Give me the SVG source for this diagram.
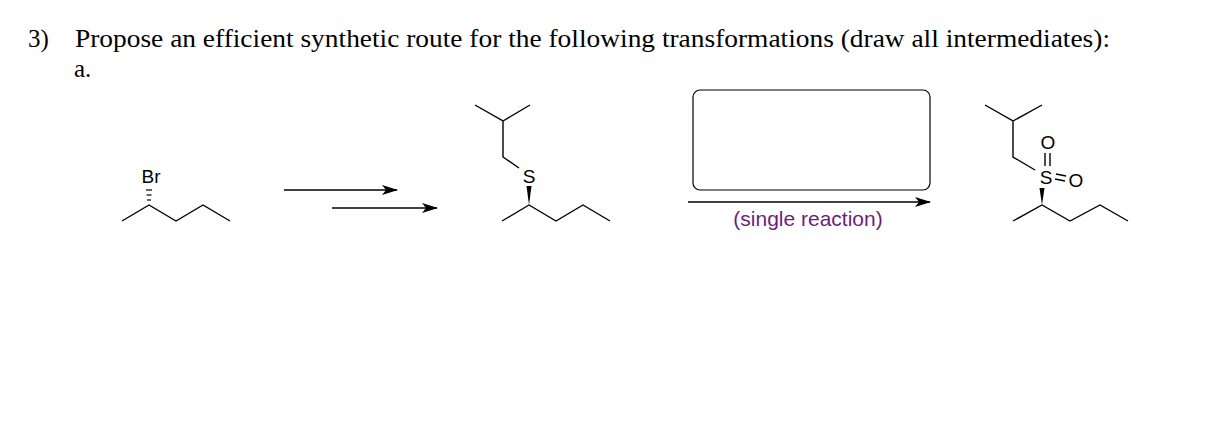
<svg xmlns="http://www.w3.org/2000/svg" width="1216" height="436" viewBox="0 0 1216 436">
<defs>
<style>
.b{stroke:#000;stroke-width:1.4;fill:none}
.t{font-family:"Liberation Serif",serif;font-size:25px;fill:#000}
.a{font-family:"Liberation Sans",Arial,sans-serif;font-size:19px;fill:#000;text-anchor:middle}
</style>
<marker id="ah" markerWidth="16" markerHeight="10" refX="15" refY="5" orient="auto" markerUnits="userSpaceOnUse"><path d="M0,0 L16,5 L0,10 L4,5 Z" fill="#000"/></marker>
</defs>
<rect width="1216" height="436" fill="#fff"/>
<text class="t" x="28" y="47">3)</text>
<text class="t" x="75" y="47" textLength="1035" lengthAdjust="spacingAndGlyphs">Propose an efficient synthetic route for the following transformations (draw all intermediates):</text>
<text class="t" x="74" y="77">a.</text>
<g id="mol1">
<polyline class="b" points="122,221 149,205 176,221 203,205 230,221"/>
<g stroke="#000" stroke-width="1.2"><line x1="147" y1="200" x2="151" y2="200"/><line x1="146.5" y1="195" x2="151.5" y2="195"/><line x1="146" y1="190" x2="152" y2="190"/></g>
<text class="a" x="151" y="183">Br</text>
</g>
<g id="mol2">
<polyline class="b" points="502,221 529,205 556,221 583,205 610,221"/>
<path d="M529,205 L526.5,186 L531.5,186 Z" fill="#000"/>
<text class="a" x="529" y="183">S</text>
<polyline class="b" points="519,168 503,157 503,121 475,105"/>
<line class="b" x1="503" y1="121" x2="530" y2="105"/>
</g>
<g id="box"><rect x="693" y="90" width="237" height="100" rx="7" fill="none" stroke="#000" stroke-width="1.2"/></g>
<g id="mol3">
<polyline class="b" points="1013,221 1042,205 1070,221 1100,205 1128,221"/>
<path d="M1042,205 L1039.5,188 L1044.5,188 Z" fill="#000"/>
<text class="a" x="1046" y="184">S</text>
<text class="a" x="1048" y="149">O</text>
<text class="a" x="1076" y="187">O</text>
<polyline class="b" points="1035,170 1013,157 1013,121 985,105"/>
<line class="b" x1="1013" y1="121" x2="1042" y2="105"/>
<line class="b" x1="1045" y1="153" x2="1045" y2="166"/><line class="b" x1="1050" y1="153" x2="1050" y2="166"/>
<line class="b" x1="1056" y1="174" x2="1066" y2="176"/><line class="b" x1="1055" y1="179" x2="1065" y2="181"/>
</g>
<g id="connectors" stroke="#000" stroke-width="1.4">
<line x1="284" y1="190" x2="397" y2="190" marker-end="url(#ah)"/>
<line x1="332" y1="208" x2="437" y2="208" marker-end="url(#ah)"/>
<line x1="688" y1="202" x2="930" y2="202" marker-end="url(#ah)"/>
</g>
<text x="808" y="226" font-family="Liberation Sans,Arial,sans-serif" font-size="21" fill="#6b1f7a" text-anchor="middle">(single reaction)</text>
</svg>
